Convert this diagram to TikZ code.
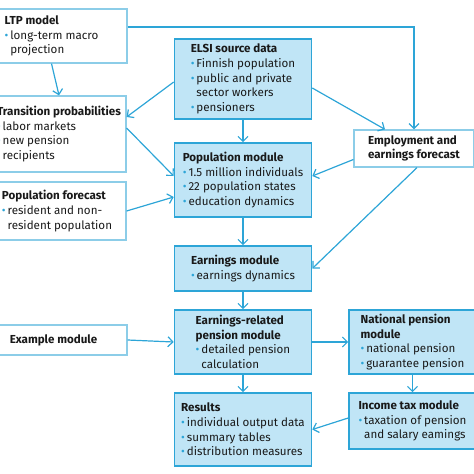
\documentclass[tikz,border=0pt]{standalone}
\usepackage{fontspec}
\setmainfont{Fira Sans}
\usepackage{tikz}
\usetikzlibrary{arrows.meta}
\definecolor{elsiblue}{RGB}{45,165,215}
\definecolor{elsifill}{RGB}{192,229,246}
\definecolor{elsiline}{RGB}{140,205,232}
\definecolor{elsitext}{RGB}{25,25,25}
\newcommand{\itm}{{\color{elsiblue}\textbullet}\,}
\newcommand{\itmgap}{\phantom{\textbullet}\,}

\begin{document}
\begin{tikzpicture}
  [x=1pt,y=-1pt,
   every node/.style={rectangle,align=left,inner sep=2pt,text=elsitext,
     font=\fontsize{11.6}{14.6}\selectfont},
   modbox/.style={draw=elsiblue,line width=1.6pt,fill=elsifill},
   srcbox/.style={draw=elsiline,line width=1.2pt,fill=white},
   flow/.style={draw=elsiblue,line width=1.2pt,-{Straight Barb[length=5pt,width=10pt]}}]

  \useasboundingbox (0,0) rectangle (474,474);

  % input boxes on the left
  \node[srcbox,minimum width=151,minimum height=54] (ltp) at (51.5,36)
    {\textbf{LTP model}\\\itm long-term macro\\\itmgap projection};
  \node[srcbox,minimum width=134,minimum height=76] (trans) at (59,134)
    {\textbf{Transition probabilities}\\\itm labor markets\\\itm new pension\\\itmgap recipients};
  \node[srcbox,minimum width=138,minimum height=58] (popf) at (57,211)
    {\textbf{Population forecast}\\\itm resident and non-\\\itmgap resident population};
  \node[srcbox,minimum width=147,minimum height=30] (exm) at (53.5,340)
    {\textbf{Example module}};

  % modules in the middle
  \node[modbox,minimum width=137,minimum height=80] (elsi) at (243,79)
    {\textbf{ELSI source data}\\\itm Finnish population\\\itm public and private\\\itmgap sector workers\\\itm pensioners};
  \node[modbox,minimum width=137,minimum height=74] (popm) at (243,180)
    {\textbf{Population module}\\\itm 1.5 million individuals\\\itm 22 population states\\\itm education dynamics};
  \node[modbox,minimum width=137,minimum height=45] (earn) at (243,268.5)
    {\textbf{Earnings module}\\\itm earnings dynamics};
  \node[modbox,minimum width=137,minimum height=64] (erp) at (243,342)
    {\textbf{Earnings-related}\\\textbf{pension module}\\\itm detailed pension\\\itmgap calculation};
  \node[modbox,minimum width=137,minimum height=73] (res) at (243,429.5)
    {\textbf{Results}\\\itm individual output data\\\itm summary tables\\\itm distribution measures};

  % boxes on the right
  \node[srcbox,minimum width=120,minimum height=37] (empl) at (414,148.5)
    {\textbf{Employment and}\\\textbf{earnings forecast}};
  \node[modbox,minimum width=127,minimum height=64] (natp) at (412.5,342)
    {\textbf{National pension}\\\textbf{module}\\\itm national pension\\\itm guarantee pension};
  \node[modbox,minimum width=127,minimum height=56] (itax) at (412.5,421)
    {\textbf{Income tax module}\\\itm taxation of pension\\\itmgap and salary eamings};

  \foreach \from/\to in {ltp.south/trans.north,elsi.south/popm.north,popm.south/earn.north,
      earn.south/erp.north,exm.east/erp.west,erp.east/natp.west,erp.south/res.north,
      natp.south/itax.north}
    \draw[flow] (\from) -- (\to);

  \draw[flow] ([yshift=9pt]ltp.east) -| (empl.north);
  \draw[flow] ([yshift=-3pt]elsi.west) -- ([yshift=17pt]trans.east);
  \draw[flow] ([yshift=6pt]trans.east) -- ([yshift=4pt]popm.west);
  \draw[flow] (popf.east) -- ([yshift=-17pt]popm.west);
  \draw[flow] ([yshift=-9pt]elsi.east) -- ([xshift=-29pt]empl.north);
  \draw[flow] ([yshift=-11pt]empl.west) -- ([yshift=4pt]popm.east);
  \draw[flow] ([xshift=3pt]empl.south) -- (earn.east);
  \draw[flow] ([yshift=3pt]itax.west) -- (res.east);
\end{tikzpicture}
\end{document}
